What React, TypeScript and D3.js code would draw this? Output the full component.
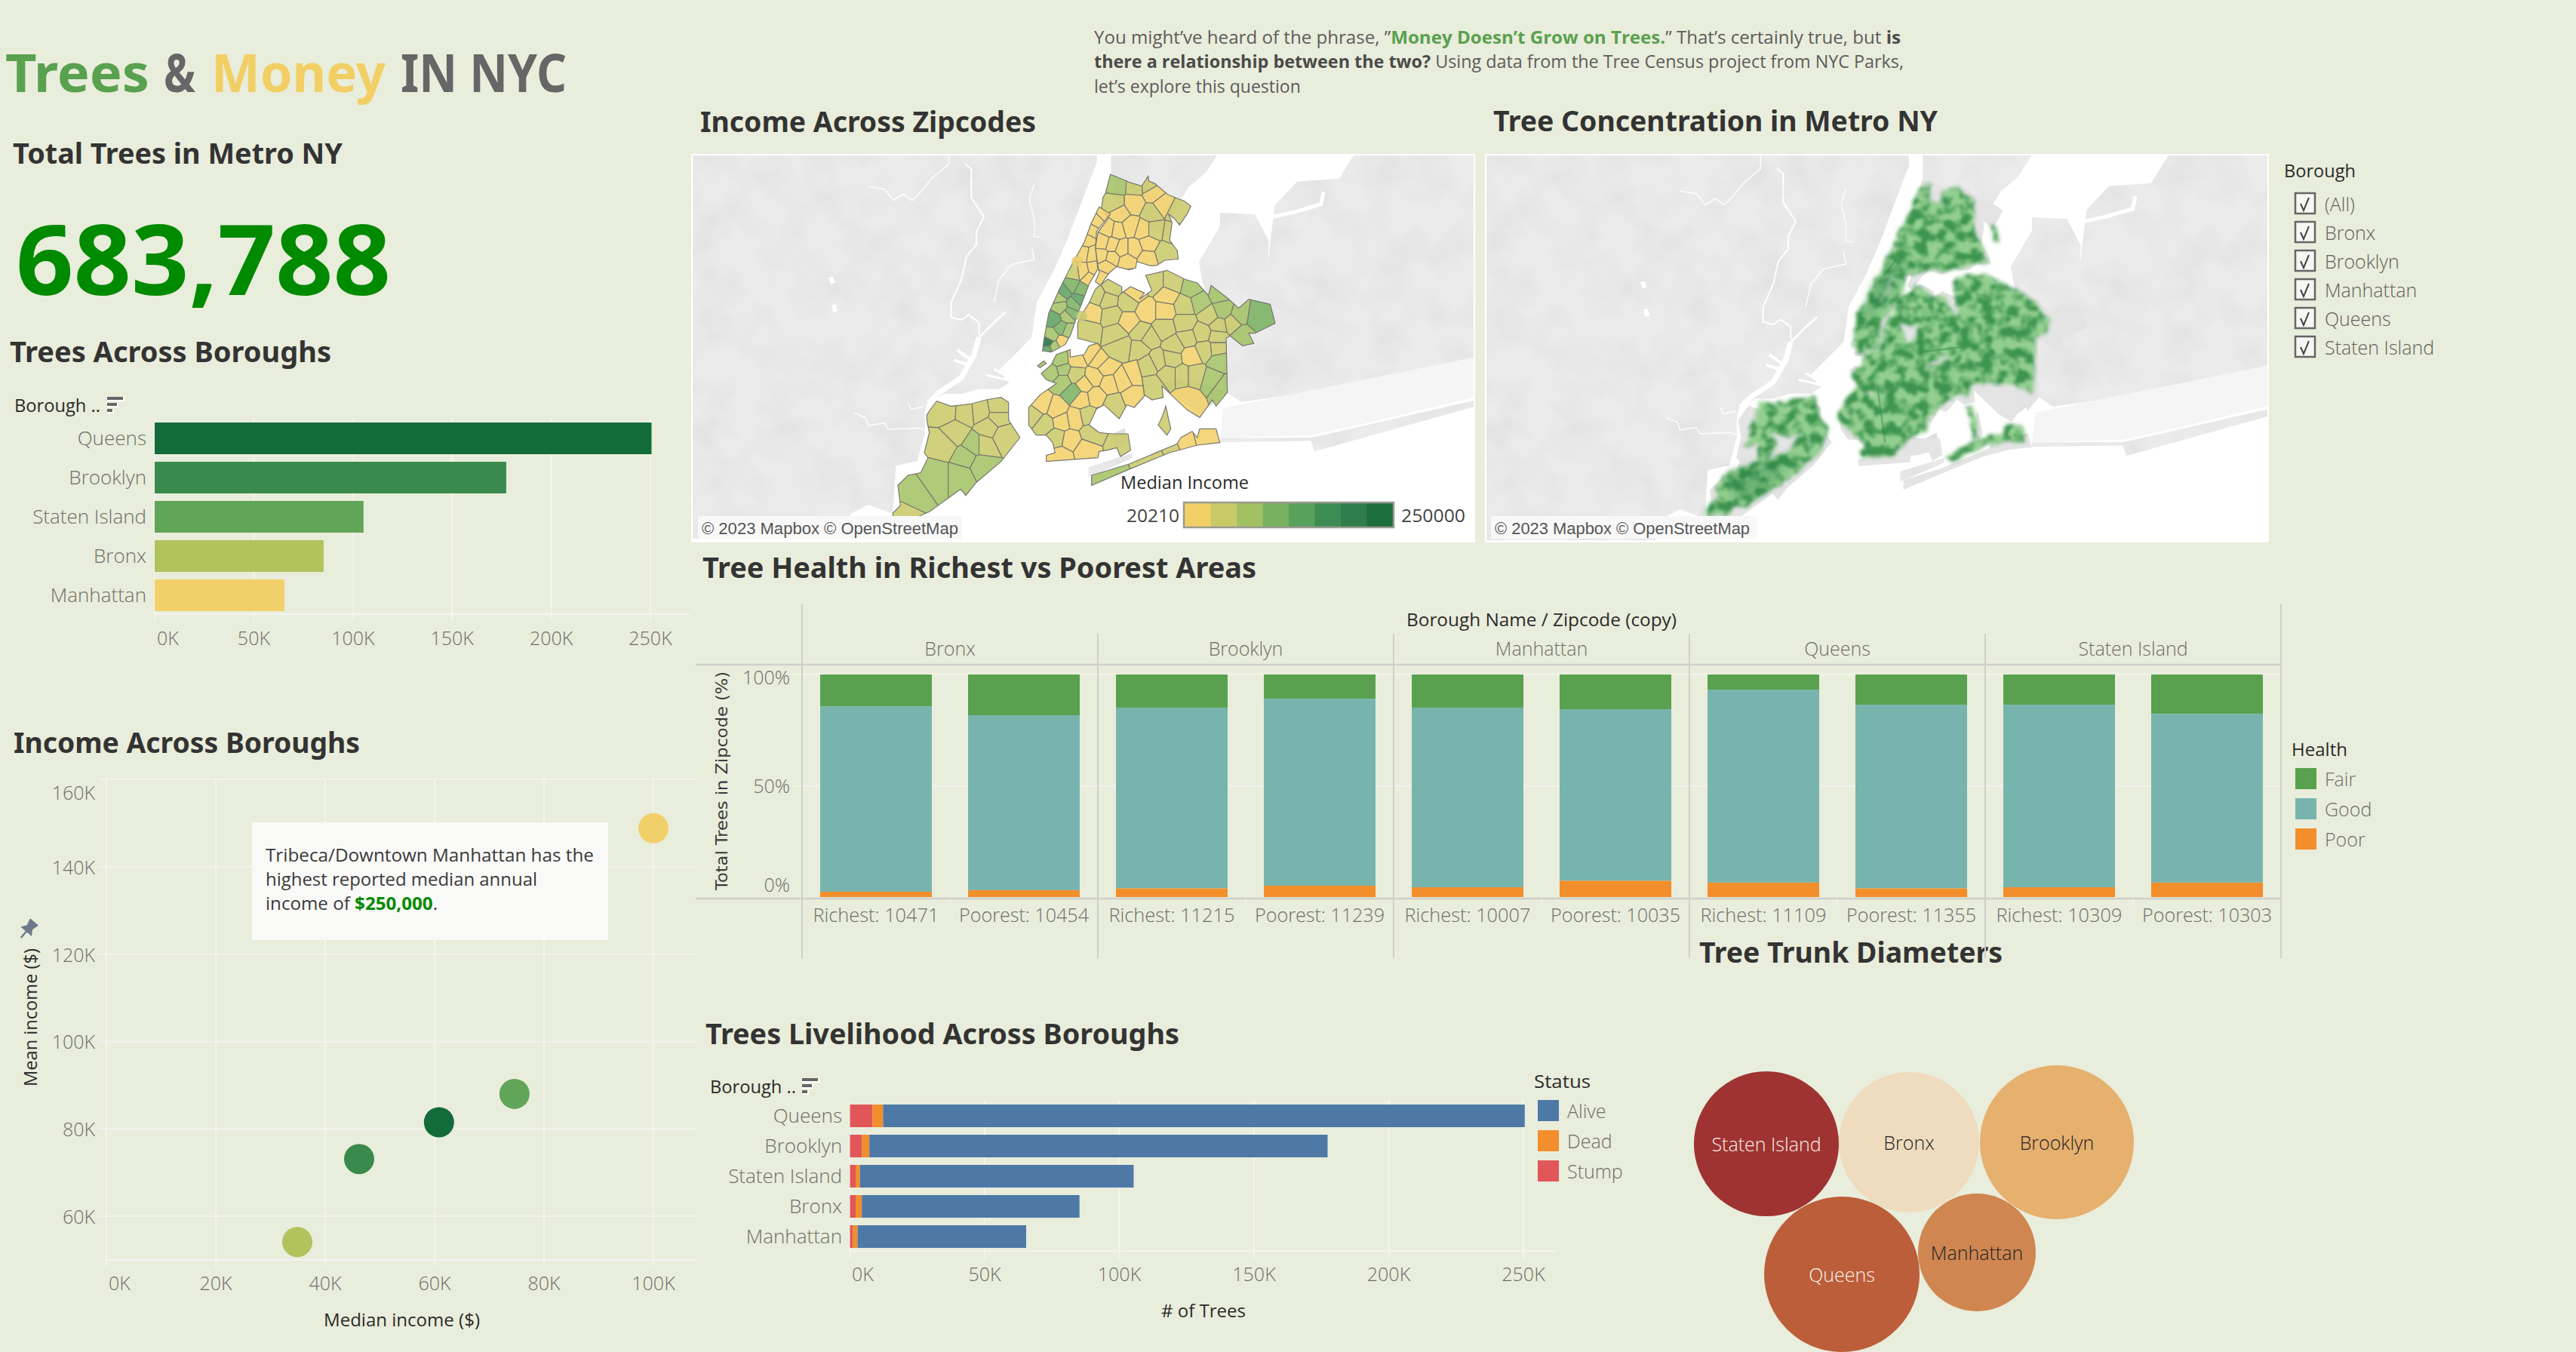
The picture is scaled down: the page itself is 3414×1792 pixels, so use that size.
import React, { useEffect, useRef } from 'react';
import * as d3 from 'd3';

type Pt = number[];

// ---- chart data ----
const totalTrees = '683,788';
const boroughOrder = ['Queens', 'Brooklyn', 'Staten Island', 'Bronx', 'Manhattan'];
const boroughTrees = [250551, 177293, 105318, 85203, 65423];
const boroughColors = ['#146b3a', '#3a8a4e', '#60a558', '#b2c25d', '#f2d069'];
const treeTicks = [0, 50000, 100000, 150000, 200000, 250000];

const aliveTrees = [238200, 170100, 101600, 80800, 62600];
const deadTrees = [3900, 2800, 1600, 2300, 1800];
const stumpTrees = [8400, 4400, 2100, 2100, 1000];
const statusNames = ['Alive', 'Dead', 'Stump'];
const statusColors = ['#4e79a7', '#f28e2b', '#e15759'];

const healthBoroughs = ['Bronx', 'Brooklyn', 'Manhattan', 'Queens', 'Staten Island'];
const richestZips = ['10471', '11215', '10007', '11109', '10309'];
const poorestZips = ['10454', '11239', '10035', '11355', '10303'];
const richestPoor = [2.4, 3.9, 4.4, 6.5, 4.4];
const richestFair = [14.3, 14.9, 14.9, 6.8, 13.6];
const poorestPoor = [3.1, 5.1, 7.3, 3.9, 6.5];
const poorestFair = [18.3, 10.9, 15.6, 13.6, 17.7];
const healthNames = ['Fair', 'Good', 'Poor'];
const healthColors = ['#59a14f', '#78b4ae', '#f28e2b'];

const medianIncome = [60800, 46200, 74600, 34900, 100000];
const meanIncome = [81500, 73100, 88000, 54100, 148800];
const incomeXTicks = [0, 20000, 40000, 60000, 80000, 100000];
const incomeYTicks = [60000, 80000, 100000, 120000, 140000, 160000];

const trunkBoroughs = ['Staten Island', 'Bronx', 'Brooklyn', 'Queens', 'Manhattan'];
const trunkDiameter = [10.95, 10.27, 12.36, 12.6, 7.23];
const trunkColors = ['#9f3332', '#efdcbf', '#e6b06e', '#bc5e3a', '#cf8651'];
const trunkInk = ['#f7f2ea', '#222', '#222', '#f7f2ea', '#222'];
// packed bubble layout, in layout units
const trunkPackX = [-192, -3, 193, -92, 87];
const trunkPackY = [2, 0, 0, 175, 146];

const filterItems = ['(All)', 'Bronx', 'Brooklyn', 'Manhattan', 'Queens', 'Staten Island'];
const incomeSteps = ['#f2d068', '#c9c968', '#a2c162', '#78b160', '#58a15d', '#3d8d53', '#2e7d4a', '#1c6e3c'];
const incomeDomain = [20210, 250000];

// ---- map data: outlines and zip centres on three survey sheets ----
// Income classes
const Y = 35000, O = 60000, L = 90000, M = 120000, G = 145000, D = 245000;

const bronxOutline = [[395,48],[460,75],[470,80],[520,95],[545,55],[548,75],[572,85],[625,130],[690,155],[715,175],[700,205],[670,250],[650,225],[625,205],[640,240],[630,310],[660,350],[665,385],[610,390],[580,410],[555,412],[500,395],[495,420],[470,428],[420,415],[390,440],[355,490],[335,475],[350,440],[345,410],[335,340],[345,280],[385,225],[375,205],[360,180],[365,140],[375,125]];
const bronxZips = [[420,90,L],[495,95,O],[545,90,O],[565,125,Y],[490,165,Y],[410,165,O],[560,200,O],[660,200,O],[600,170,Y],[640,280,O],[570,270,O],[610,360,O],[430,205,Y],[390,265,Y],[420,270,Y],[475,255,Y],[525,270,Y],[365,320,Y],[400,330,Y],[440,345,Y],[490,345,Y],[540,380,Y],[360,370,Y],[400,380,Y],[460,395,Y],[380,415,Y],[545,325,Y],[360,460,Y],[465,455,O]];
const manhattanOutline = [[350,178],[395,205],[340,275],[335,340],[345,425],[310,485],[270,590],[235,690],[215,725],[160,755],[125,750],[130,710],[150,600],[190,510],[240,410],[290,320],[320,240]];
const manhattanZips = [[370,205,Y],[340,235,Y],[320,270,Y],[300,310,Y],[320,365,Y],[290,360,Y],[285,435,Y],[330,425,Y],[310,460,Y],[250,440,O],[240,490,M],[210,515,G],[280,510,M],[190,540,L],[270,545,G],[250,565,M],[195,575,L],[235,600,M],[170,625,G],[225,610,L],[200,660,M],[160,690,L],[225,670,L],[205,715,Y],[145,718,D],[145,745,G],[170,735,L]];
const queensOutline = [[265,640],[285,600],[310,560],[335,505],[385,465],[440,495],[440,520],[475,495],[530,520],[510,545],[560,510],[535,450],[580,440],[620,430],[690,465],[740,480],[785,530],[795,490],[860,540],[905,580],[945,545],[1030,565],[1050,640],[970,680],[945,680],[965,720],[920,730],[870,690],[855,700],[860,915],[815,970],[800,945],[750,1015],[700,985],[600,890],[605,935],[560,945],[530,925],[520,855],[500,785],[445,800],[390,775],[340,720],[265,700]];
const queensZips = [[345,530,O],[400,500,O],[465,555,O],[490,520,Y],[570,480,O],[640,480,O],[385,545,O],[320,600,Y],[400,610,O],[465,635,Y],[540,590,Y],[610,590,Y],[620,530,Y],[690,570,O],[720,500,L],[750,555,L],[825,520,L],[840,590,L],[790,610,O],[690,640,O],[610,660,O],[545,700,O],[515,680,O],[420,680,O],[305,665,O],[880,640,O],[910,610,L],[975,620,M],[920,685,L],[825,650,O],[820,695,O],[760,680,O],[700,700,O],[650,730,O],[770,745,O],[820,740,O],[830,790,L],[800,865,L],[840,895,L],[715,770,Y],[640,780,O],[580,790,O],[510,740,O],[440,730,O],[565,890,O],[550,805,O],[625,845,O],[680,845,O],[730,845,O],[700,945,Y]];
const brooklynOutline = [[775,100],[830,90],[850,55],[885,45],[930,100],[985,125],[1040,110],[1060,180],[1070,255],[1030,300],[1000,290],[970,345],[910,290],[880,305],[850,370],[890,400],[935,405],[1005,405],[1015,470],[975,495],[960,460],[925,470],[890,475],[885,500],[680,515],[680,490],[715,480],[705,440],[680,410],[640,410],[610,370],[610,300],[620,290],[655,250],[720,205],[680,190],[660,165],[700,130],[720,90],[775,70]];
const brooklynZips = [[735,115,L],[705,160,L],[745,150,L],[745,195,L],[800,110,Y],[855,85,Y],[890,110,Y],[795,170,O],[870,180,Y],[830,210,Y],[920,140,Y],[930,205,Y],[790,240,M],[820,265,Y],[875,255,Y],[720,310,Y],[660,290,Y],[630,330,O],[675,365,O],[740,355,Y],[795,345,Y],[845,335,O],[720,420,O],[775,430,Y],[860,400,O],[835,470,Y],[740,495,Y],[900,345,O],[950,290,O],[980,190,Y],[1030,165,Y],[1025,260,Y],[975,450,O]];
const statenOutline = [[225,300],[245,275],[300,295],[350,290],[385,285],[440,270],[500,260],[530,280],[530,350],[575,420],[500,515],[400,600],[360,650],[340,625],[215,715],[170,735],[70,735],[70,720],[100,690],[90,610],[130,570],[180,560],[210,500],[195,480],[215,400],[205,350],[205,330]];
const statenZips = [[280,315,O],[360,320,O],[415,315,O],[490,300,O],[320,400,O],[450,380,O],[510,410,O],[490,340,O],[430,450,O],[395,450,L],[240,570,L],[140,640,L],[360,500,L],[420,530,L],[340,570,L],[100,725,O],[270,450,O]];
const rockawayOutline = [[860,570],[1010,525],[1200,445],[1215,420],[1260,395],[1280,420],[1290,385],[1355,385],[1370,440],[1280,450],[1170,480],[1000,550],[860,610]];
const rockawayZips = [[920,570,L],[1100,500,O],[1185,460,O],[1225,445,Y],[1320,420,Y]];
const channelOutline = [[1155,295],[1175,385],[1160,410],[1125,370],[1140,340]];
const channelZips = [[1150,350,O]];
const governorsOutline = [[645,135],[670,115],[680,125],[655,142]];
const governorsZips = [[662,128,L]];
const zipDots = [[262,395,Y],[280,612,O]];

// land and water on the west sheet
const westLand = [[-650,-42],[1110,-42],[1110,0],[1060,130],[1000,290],[940,430],[870,560],[850,700],[780,770],[720,830],[760,880],[720,905],[640,905],[570,925],[500,925],[440,960],[425,1030],[430,1080],[400,1190],[310,1210],[300,1370],[295,1400],[200,1365],[130,1400],[100,1500],[-650,1500]];
const eastLand = [[1165,-42],[1598,-42],[1543,44],[1473,103],[1418,198],[1390,300],[1200,200],[1165,50]];
const islandLand = [[1529,483],[1515,400],[1599,257],[1599,204],[1738,210],[1793,317],[1788,412],[1816,174],[1905,80],[2072,68],[2141,-42],[2700,-42],[2700,760],[2322,868],[2072,898],[1849,933],[1682,957],[1612,910],[1612,684]];
const marshLand = [[1612,981],[2700,760],[2700,915],[2183,1040],[1960,1088],[1599,1099]];
const beachLand = [[1599,1099],[1960,1099],[2700,930],[2700,950],[1974,1153],[1960,1111],[1599,1117]];
const breezyLand = [[1075,1215],[1250,1160],[1250,1180],[1075,1255]];
const airportLand = [[1370,880],[1420,865],[1500,880],[1620,910],[1590,950],[1520,1000],[1440,950]];
const bennettLand = [[1160,1090],[1220,1060],[1230,1120],[1190,1140]];
const rivers: [number, Pt[]][] = [
  [1.4, [[520,-42],[520,10],[450,70],[410,120],[375,155],[340,130],[300,155],[265,110],[200,100]]],
  [2, [[585,10],[610,30],[610,145],[660,220],[630,280],[630,330],[590,380],[570,470],[530,560],[530,620],[570,630],[600,610],[640,640],[640,690]]],
  [2.5, [[745,600],[700,640],[640,700]]],
  [7, [[640,700],[620,770],[570,860],[480,920],[440,960]]],
  [3, [[440,960],[430,1000],[430,1080],[400,1190]]],
  [1.2, [[860,90],[840,150],[860,230],[860,300],[890,300]]],
  [1.4, [[850,340],[860,390],[770,410],[720,470],[700,560]]],
  [1.4, [[145,1000],[190,1020],[200,1050],[265,1040],[280,1065],[400,1060],[430,1070]]],
  [1.4, [[360,960],[370,985],[420,975]]],
  [4, [[540,790],[600,810]]],
  [4, [[555,750],[610,790]]],
  [3, [[670,850],[760,870]]],
  [3, [[700,825],[760,860]]],
  [6, [[50,460],[60,485]]],
  [6, [[62,570],[70,598]]],
  [5, [[1810,220],[1900,200],[2000,170],[2010,120]]],
];

// where the tree-density surface sits on the west sheet
const densityBlobs = [
  [[1095,210],[1130,250],[1105,430],[1075,520],[1005,610],[990,720],[910,745],[885,710],[905,590],[980,440],[1040,330]],
  [[1165,65],[1195,70],[1195,140],[1230,150],[1245,95],[1300,80],[1375,140],[1365,230],[1390,290],[1425,385],[1340,395],[1290,410],[1245,420],[1210,410],[1140,430],[1100,420],[1110,320],[1095,210],[1130,140]],
  [[1285,460],[1340,430],[1420,430],[1500,470],[1530,483],[1610,540],[1668,613],[1660,660],[1612,684],[1610,800],[1599,909],[1560,880],[1490,870],[1420,865],[1362,868],[1340,920],[1295,910],[1280,850],[1340,760],[1310,680],[1300,560]],
  [[1135,470],[1200,515],[1240,520],[1300,600],[1335,740],[1370,860],[1340,920],[1295,910],[1240,960],[1190,990],[1180,1060],[1110,1080],[1060,1150],[920,1165],[915,1130],[940,1110],[850,1040],[825,990],[860,930],[900,870],[885,820],[920,790],[940,740],[995,725],[1020,620],[1060,540]],
  [[510,940],[610,940],[740,910],[755,990],[795,1040],[760,1130],[700,1190],[640,1130],[680,1060],[620,1080],[560,1060],[590,1100],[550,1170],[510,1175],[510,1100],[465,1120],[450,1110],[500,1040],[475,1050],[500,1000]],
  [[700,1190],[600,1270],[510,1320],[465,1355],[420,1355],[380,1390],[305,1390],[300,1370],[345,1320],[340,1270],[390,1220],[480,1180],[560,1160],[650,1125]],
  [[1255,1160],[1290,1130],[1420,1070],[1487,1060],[1495,1029],[1557,1029],[1576,1094],[1500,1095],[1420,1110],[1290,1175]],
  [[1340,950],[1360,950],[1385,1080],[1365,1085]],
  [[1435,240],[1455,235],[1470,300],[1450,310]],
];
const densityGaps = [
  [[1000,530],[1040,440],[1050,450],[1005,540]],
  [[1170,800],[1260,750],[1280,760],[1180,800]],
  [[1075,625],[1150,640],[1120,700],[1100,710]],
  [[940,900],[970,895],[965,915]],
  [[1000,870],[1015,870],[1010,890]],
];
// darker cores and street corridors of the density surface
const densityCores = [
  [[390,1220],[640,1140],[560,1280],[420,1340]],
  [[960,480],[1060,380],[1060,480],[920,650]],
  [[300,1370],[350,1340],[350,1390],[305,1390]],
];
const densityStreaks = [
  [[985,880],[1015,1100]],
  [[1010,440],[1060,370]],
  [[1150,740],[1320,720]],
];

const closed = (pts: Pt[], px: (v: number) => number, py: (v: number) => number) =>
  'M' + pts.map((p) => `${px(p[0])},${py(p[1])}`).join('L') + 'Z';

const App = () => {
  const svgRef = useRef<SVGSVGElement | null>(null);

  useEffect(() => {
    const svg = d3.select(svgRef.current);
    svg.selectAll('*').remove();
    const defs = svg.append('defs');

    const BOOK = "'Open Sans', sans-serif";
    const HEAD = "'Noto Sans', sans-serif";
    const GRID = '#f3f4ee';
    const FRAME = '#cfcfcb';
    const MUTED = '#6e6e6a';

    // text helper, w forces the width seen in the reference
    const txt = (parent: any, x: number, y: number, s: string, o: any = {}) => {
      const t = parent
        .append('text')
        .attr('x', x)
        .attr('y', y)
        .attr('font-family', o.family || BOOK)
        .attr('font-size', o.size || 25)
        .attr('font-weight', o.weight || 400)
        .attr('fill', o.fill || '#2b2b2b')
        .attr('text-anchor', o.anchor || 'start')
        .text(s);
      if (o.w) t.attr('textLength', o.w).attr('lengthAdjust', 'spacingAndGlyphs');
      if (o.rotate) t.attr('transform', `rotate(${o.rotate} ${x} ${y})`);
      return t;
    };
    const title = (x: number, y: number, s: string, w: number) =>
      txt(svg, x, y, s, { family: HEAD, size: 38, weight: 700, fill: '#333', w });
    const sortIcon = (x: number, y: number) => {
      [21, 13, 7].forEach((w, i) => {
        svg.append('rect').attr('x', x).attr('y', y + i * 8).attr('width', w + 2).attr('height', 6).attr('fill', '#fff');
        svg.append('rect').attr('x', x).attr('y', y + i * 8).attr('width', w).attr('height', 4).attr('fill', '#666');
      });
    };
    const kLabel = (d: number) => `${d / 1000}K`;

    // ---- page headings ----
    [
      ['Trees', 7, 191, '#59a14f'],
      ['&', 217, 42, '#666'],
      ['Money', 280, 231, '#f2cf65'],
      ['IN NYC', 531, 220, '#666'],
    ].forEach(([s, x, w, c]: any) => txt(svg, x, 122, s, { family: HEAD, size: 70, weight: 700, fill: c, w }));

    const intro = [
      [['You might’ve heard of the phrase, ”', 400, '#5c5c5c'], ['Money Doesn’t Grow on Trees.', 700, '#59a14f'], ['” That’s certainly true, but ', 400, '#5c5c5c'], ['is', 700, '#4a4a4a']],
      [['there a relationship between the two?', 700, '#4a4a4a'], [' Using data from the Tree Census project from NYC Parks,', 400, '#5c5c5c']],
      [['let’s explore this question', 400, '#5c5c5c']],
    ];
    const introW = [1069, 1073, 0];
    intro.forEach((line: any, i) => {
      const t = svg.append('text').attr('x', 1450).attr('y', [58, 90, 123][i]).attr('font-family', BOOK).attr('font-size', 23);
      if (introW[i]) t.attr('textLength', introW[i]).attr('lengthAdjust', 'spacingAndGlyphs');
      line.forEach(([s, wt, c]: any) => t.append('tspan').attr('font-weight', wt).attr('fill', c).text(s));
    });

    title(17, 217, 'Total Trees in Metro NY', 437);
    txt(svg, 21, 391, totalTrees, { size: 130, weight: 700, fill: '#008a00', w: 497 });
    title(13, 480, 'Trees Across Boroughs', 426);
    title(18, 998, 'Income Across Boroughs', 459);
    title(928, 175, 'Income Across Zipcodes', 445);
    title(1979, 174, 'Tree Concentration in Metro NY', 589);
    title(931, 766, 'Tree Health in Richest vs Poorest Areas', 734);
    title(935, 1384, 'Trees Livelihood Across Boroughs', 628);
    title(2252, 1276, 'Tree Trunk Diameters', 402);

    // ---- trees across boroughs ----
    const barX = d3.scaleLinear().domain([0, 250000]).range([205, 862]);
    const barY = d3.scaleBand().domain(boroughOrder).range([555, 815]).paddingInner(10 / 52).paddingOuter(5 / 52);
    treeTicks.forEach((d) => {
      svg.append('line').attr('x1', barX(d)).attr('x2', barX(d)).attr('y1', 554).attr('y2', 824).attr('stroke', GRID).attr('stroke-width', 2);
      const lx = d ? barX(d) : 208;
      txt(svg, lx, 855, kLabel(d), { size: 25, fill: MUTED, weight: 300, anchor: d ? 'middle' : 'start' });
    });
    svg.append('line').attr('x1', 205).attr('x2', 914).attr('y1', 814).attr('y2', 814).attr('stroke', GRID).attr('stroke-width', 2.5);
    boroughOrder.forEach((b, i) => {
      svg.append('rect').attr('x', barX(0)).attr('y', barY(b)!).attr('width', barX(boroughTrees[i]) - barX(0)).attr('height', barY.bandwidth()).attr('fill', boroughColors[i]);
      txt(svg, 194, barY(b)! + barY.bandwidth() / 2 + 9, b, { size: 26, fill: MUTED, weight: 300, anchor: 'end' });
    });
    txt(svg, 19, 546, 'Borough ..', { size: 24, w: 114 });
    sortIcon(142, 526);

    // ---- income scatter ----
    const sx = d3.scaleLinear().domain([0, 100000]).range([141, 866]);
    const sy = d3.scaleLinear().domain([60000, 160000]).range([1612, 1033]);
    incomeXTicks.forEach((d) => {
      svg.append('line').attr('x1', sx(d)).attr('x2', sx(d)).attr('y1', 1033).attr('y2', 1679).attr('stroke', GRID).attr('stroke-width', 2);
      txt(svg, d ? sx(d) : 144, 1710, kLabel(d), { fill: MUTED, weight: 300, anchor: d ? 'middle' : 'start' });
    });
    incomeYTicks.forEach((d) => {
      svg.append('line').attr('x1', 130).attr('x2', 924).attr('y1', sy(d)).attr('y2', sy(d)).attr('stroke', GRID).attr('stroke-width', 2);
      txt(svg, 126, d === 160000 ? 1060 : sy(d) + 10, kLabel(d), { fill: MUTED, weight: 300, anchor: 'end' });
    });
    svg.append('line').attr('x1', 141).attr('x2', 924).attr('y1', 1670).attr('y2', 1670).attr('stroke', GRID).attr('stroke-width', 2.5);
    medianIncome.forEach((v, i) => {
      svg.append('circle').attr('cx', sx(v)).attr('cy', sy(meanIncome[i])).attr('r', 20).attr('fill', boroughColors[i]);
    });
    svg.append('rect').attr('x', 334).attr('y', 1090).attr('width', 472).attr('height', 156).attr('fill', '#f9f9f7');
    txt(svg, 352, 1142, 'Tribeca/Downtown Manhattan has the', { size: 24, w: 435, fill: '#3a3a3a' });
    txt(svg, 352, 1174, 'highest reported median annual', { size: 24, w: 360, fill: '#3a3a3a' });
    const note = txt(svg, 352, 1206, 'income of ', { size: 24, fill: '#3a3a3a' });
    note.attr('textLength', 228).attr('lengthAdjust', 'spacingAndGlyphs');
    note.append('tspan').attr('font-weight', 700).attr('fill', '#008a00').text('$250,000');
    note.append('tspan').text('.');
    txt(svg, 429, 1758, 'Median income ($)', { size: 24, w: 207 });
    txt(svg, 49, 1440, 'Mean income ($)', { size: 24, w: 183, rotate: -90 });
    // pinned axis marker
    svg.append('path').attr('transform', 'translate(37 1232) rotate(40) scale(1.2)').attr('d', 'M-6,-11H6L4,-3L8,3H1V12L-1,12V3H-8L-4,-3Z').attr('fill', '#6e7a8a');

    // ---- maps ----
    const PW = 1037, PH = 512;
    const sheets: any = {
      north: { x: [-1266, 1845], y: [-27, 1509] },
      south: { x: [-726, 2385], y: [-702, 834] },
    };
    const boroughs: any[] = [
      { sheet: 'north', outline: bronxOutline, zips: bronxZips },
      { sheet: 'north', outline: manhattanOutline, zips: manhattanZips },
      { sheet: 'north', outline: queensOutline, zips: queensZips },
      { sheet: 'south', outline: brooklynOutline, zips: brooklynZips },
      { sheet: 'south', outline: statenOutline, zips: statenZips },
      { sheet: 'south', outline: rockawayOutline, zips: rockawayZips },
      { sheet: 'south', outline: channelOutline, zips: channelZips },
      { sheet: 'south', outline: governorsOutline, zips: governorsZips },
    ];

    const landTex = defs.append('filter').attr('id', 'landTex').attr('filterUnits', 'userSpaceOnUse').attr('x', 0).attr('y', 0).attr('width', PW).attr('height', PH).attr('color-interpolation-filters', 'sRGB');
    landTex.append('feTurbulence').attr('type', 'fractalNoise').attr('baseFrequency', 0.02).attr('numOctaves', 3).attr('seed', 7).attr('result', 'n');
    landTex.append('feColorMatrix').attr('in', 'n').attr('type', 'matrix').attr('values', '0 0 0 0 0  0 0 0 0 0  0 0 0 0 0  0.07 0 0 0 -0.026').attr('result', 'shade');
    landTex.append('feComposite').attr('in', 'shade').attr('in2', 'SourceAlpha').attr('operator', 'in').attr('result', 'cut');
    const lm = landTex.append('feMerge');
    lm.append('feMergeNode').attr('in', 'SourceGraphic');
    lm.append('feMergeNode').attr('in', 'cut');

    const dens = defs.append('filter').attr('id', 'densTex').attr('filterUnits', 'userSpaceOnUse').attr('x', 0).attr('y', 0).attr('width', PW).attr('height', PH).attr('color-interpolation-filters', 'sRGB');
    dens.append('feTurbulence').attr('type', 'fractalNoise').attr('baseFrequency', 0.07).attr('numOctaves', 2).attr('seed', 11).attr('result', 'noise');
    dens.append('feDisplacementMap').attr('in', 'SourceAlpha').attr('in2', 'noise').attr('scale', 9).attr('xChannelSelector', 'R').attr('yChannelSelector', 'G').attr('result', 'rough');
    dens.append('feGaussianBlur').attr('in', 'rough').attr('stdDeviation', 2.4).attr('result', 'soft');
    dens.append('feColorMatrix').attr('in', 'noise').attr('type', 'matrix').attr('values', '0 0 0 0 0.24  0 0 0 0 0.58  0 0 0 0 0.31  3.6 0 0 0 -1.35').attr('result', 'dark');
    dens.append('feGaussianBlur').attr('in', 'dark').attr('stdDeviation', 1.6).attr('result', 'darkSoft');
    dens.append('feFlood').attr('flood-color', '#93cf90').attr('result', 'base');
    const dm = dens.append('feMerge').attr('result', 'tex');
    dm.append('feMergeNode').attr('in', 'base');
    dm.append('feMergeNode').attr('in', 'darkSoft');
    dens.append('feComposite').attr('in', 'tex').attr('in2', 'soft').attr('operator', 'in');
    defs.append('filter').attr('id', 'coreBlur').attr('filterUnits', 'userSpaceOnUse').attr('x', 0).attr('y', 0).attr('width', PW).attr('height', PH).append('feGaussianBlur').attr('stdDeviation', 6);

    const drawPanel = (id: string, left: number, top: number, dx: number, dy: number) => {
      // dx, dy move this panel's basemap against the sheet
      svg.append('rect').attr('x', left - 2).attr('y', top - 2).attr('width', PW + 2).attr('height', PH + 3).attr('fill', '#fff');
      defs.append('clipPath').attr('id', id).append('rect').attr('width', PW - 2).attr('height', PH - 2);
      const g = svg.append('g').attr('transform', `translate(${left},${top})`).attr('clip-path', `url(#${id})`);
      const wx = d3.scaleLinear().domain([-570, 2538]).range([dx, PW + dx - 1]);
      const wy = d3.scaleLinear().domain([-42, 1494]).range([dy, PH + dy]);
      const land = g.append('g').attr('filter', 'url(#landTex)');
      [westLand, eastLand, islandLand, beachLand, breezyLand].forEach((p) => land.append('path').attr('d', closed(p, wx, wy)).attr('fill', '#ebebeb'));
      g.append('path').attr('d', closed(marshLand, wx, wy)).attr('fill', '#f5f5f5');
      const line = d3.line<Pt>().x((p) => wx(p[0])).y((p) => wy(p[1]));
      rivers.forEach(([w, p]) => g.append('path').attr('d', line(p)).attr('fill', 'none').attr('stroke', '#fff').attr('stroke-width', w));
      [airportLand, bennettLand].forEach((p) => g.append('path').attr('d', closed(p, wx, wy)).attr('fill', '#dfdfdf'));
      return { g, wx, wy, line };
    };

    // income choropleth, one Voronoi cell per zip inside its borough outline
    const incomeColor = d3.scaleQuantize<string>().domain(incomeDomain).range(incomeSteps);
    const left = drawPanel('panelA', 918, 206, -24, -6);
    boroughs.forEach((b, i) => {
      const px = d3.scaleLinear().domain(sheets[b.sheet].x).range([0, PW]);
      const py = d3.scaleLinear().domain(sheets[b.sheet].y).range([0, PH]);
      const outline = closed(b.outline, px, py);
      const cid = `zipClip${i}`;
      defs.append('clipPath').attr('id', cid).append('path').attr('d', outline);
      const cells = left.g.append('g').attr('clip-path', `url(#${cid})`);
      const seeds = b.zips.map((z: Pt) => [px(z[0]), py(z[1])]);
      if (seeds.length > 1) {
        const vor = d3.Delaunay.from(seeds).voronoi([0, 0, PW, PH]);
        b.zips.forEach((z: Pt, k: number) => {
          cells.append('path').attr('d', vor.renderCell(k)).attr('fill', incomeColor(z[2])).attr('fill-opacity', 0.86).attr('stroke', '#777770').attr('stroke-width', 1.1);
        });
      } else {
        cells.append('path').attr('d', outline).attr('fill', incomeColor(b.zips[0][2])).attr('fill-opacity', 0.86);
      }
      left.g.append('path').attr('d', outline).attr('fill', 'none').attr('stroke', '#777770').attr('stroke-width', 1.2);
    });
    const dotX = d3.scaleLinear().domain(sheets.north.x).range([0, PW]);
    const dotY = d3.scaleLinear().domain(sheets.north.y).range([0, PH]);
    zipDots.forEach((z) => left.g.append('circle').attr('cx', dotX(z[0])).attr('cy', dotY(z[1])).attr('r', 7).attr('fill', incomeColor(z[2])).attr('fill-opacity', 0.8).attr('stroke', '#bbb').attr('stroke-width', 0.6));

    // attribution and income legend
    const credit = (x: number, w: number, tw: number) => {
      svg.append('rect').attr('x', x).attr('y', 684).attr('width', w).attr('height', 30).attr('fill', '#f8f8f8');
      txt(svg, x + 5, 708, '© 2023 Mapbox © OpenStreetMap', { family: "'Liberation Sans', sans-serif", size: 22, fill: '#555', w: tw });
    };
    credit(925, 350, 340);
    txt(svg, 1485, 648, 'Median Income', { size: 24, w: 170 });
    txt(svg, 1563, 692, String(incomeDomain[0]), { size: 24, fill: '#444', anchor: 'end', w: 70 });
    txt(svg, 1857, 692, String(incomeDomain[1]), { size: 24, fill: '#444', w: 85 });
    const legendX = d3.scaleBand<number>().domain(d3.range(incomeSteps.length)).range([1570, 1846]);
    incomeSteps.forEach((c, i) => svg.append('rect').attr('x', legendX(i)!).attr('y', 667).attr('width', legendX.bandwidth() + 0.5).attr('height', 31).attr('fill', c));
    svg.append('rect').attr('x', 1569).attr('y', 666).attr('width', 278).attr('height', 33).attr('fill', 'none').attr('stroke', '#9a9a90').attr('stroke-width', 2.5);

    // tree density panel
    const right = drawPanel('panelB', 1970, 206, 0, 0);
    boroughs.forEach((b) => {
      const px = d3.scaleLinear().domain(sheets[b.sheet].x).range([24, PW + 24]);
      const py = d3.scaleLinear().domain(sheets[b.sheet].y).range([6, PH + 6]);
      right.g.append('path').attr('d', closed(b.outline, px, py)).attr('fill', '#e4e4e4');
    });
    const mask = defs.append('mask').attr('id', 'densGaps').attr('maskUnits', 'userSpaceOnUse').attr('x', 0).attr('y', 0).attr('width', PW).attr('height', PH);
    mask.append('rect').attr('width', PW).attr('height', PH).attr('fill', '#fff');
    densityGaps.forEach((p) => mask.append('path').attr('d', closed(p, right.wx, right.wy)).attr('fill', '#000'));
    const blobs = right.g.append('g').attr('filter', 'url(#densTex)').append('g').attr('mask', 'url(#densGaps)');
    densityBlobs.forEach((p) => blobs.append('path').attr('d', closed(p, right.wx, right.wy)).attr('fill', '#000'));
    const cores = right.g.append('g').attr('filter', 'url(#coreBlur)');
    densityCores.forEach((p) => cores.append('path').attr('d', closed(p, right.wx, right.wy)).attr('fill', '#1f7a3a').attr('fill-opacity', 0.32));
    densityStreaks.forEach((p) => right.g.append('path').attr('d', right.line(p)).attr('fill', 'none').attr('stroke', '#2c8a45').attr('stroke-opacity', 0.4).attr('stroke-width', 3));
    credit(1976, 352, 338);

    // borough filter card
    txt(svg, 3027, 235, 'Borough', { size: 24, w: 95 });
    filterItems.forEach((s, i) => {
      const y = 256 + i * 38;
      svg.append('rect').attr('x', 3042).attr('y', y).attr('width', 26).attr('height', 27).attr('fill', '#f6f6f2').attr('stroke', '#666').attr('stroke-width', 2.5);
      svg.append('path').attr('d', `M3049,${y + 14}L3053,${y + 23}L3060,${y + 6}`).attr('fill', 'none').attr('stroke', '#444').attr('stroke-width', 2);
      txt(svg, 3081, y + 24, s, { fill: '#5f5f5b', weight: 300 });
    });

    // ---- tree health small multiples ----
    const facet = d3.scaleBand().domain(healthBoroughs).range([1063, 3023]);
    const hy = d3.scaleLinear().domain([0, 100]).range([1189, 894]);
    [50, 100].forEach((d) => {
      svg.append('line').attr('x1', 1050).attr('x2', 3023).attr('y1', hy(d)).attr('y2', hy(d)).attr('stroke', GRID).attr('stroke-width', 2);
    });
    txt(svg, 1047, 907, '100%', { fill: MUTED, weight: 300, anchor: 'end' });
    txt(svg, 1047, 1051, '50%', { fill: MUTED, weight: 300, anchor: 'end' });
    txt(svg, 1047, 1182, '0%', { fill: MUTED, weight: 300, anchor: 'end' });
    healthBoroughs.forEach((b, i) => {
      const fx = facet(b)!;
      const inner = d3.scaleBand().domain(['Richest', 'Poorest']).range([fx, fx + facet.bandwidth()]).paddingInner(0.245).paddingOuter(0.1225);
      const rows = [
        { key: 'Richest', zip: richestZips[i], poor: richestPoor[i], fair: richestFair[i] },
        { key: 'Poorest', zip: poorestZips[i], poor: poorestPoor[i], fair: poorestFair[i] },
      ];
      rows.forEach((r) => {
        const bx = inner(r.key)!;
        const bands = [
          [100 - r.fair, 100, healthColors[0]],
          [r.poor, 100 - r.fair, healthColors[1]],
          [0, r.poor, healthColors[2]],
        ] as [number, number, string][];
        bands.forEach(([a, c, col]) => svg.append('rect').attr('x', bx).attr('y', hy(c)).attr('width', inner.bandwidth()).attr('height', hy(a) - hy(c)).attr('fill', col));
        txt(svg, bx + inner.bandwidth() / 2, 1222, `${r.key}: ${r.zip}`, { fill: MUTED, weight: 300, anchor: 'middle', size: 25, w: r.key === 'Richest' ? 167 : 172 });
      });
      txt(svg, fx + facet.bandwidth() / 2, 869, b, { fill: MUTED, weight: 300, anchor: 'middle' });
      svg.append('line').attr('x1', fx + 196).attr('x2', fx + 196).attr('y1', 1191).attr('y2', 1197).attr('stroke', GRID).attr('stroke-width', 2);
    });
    // facet frame
    facet.domain().concat(['end']).forEach((b, i) => {
      const x = b === 'end' ? 3023 : facet(b)!;
      const outer = i === 0 || b === 'end';
      svg.append('line').attr('x1', x).attr('x2', x).attr('y1', outer ? 800 : 840).attr('y2', 1270).attr('stroke', FRAME).attr('stroke-width', 2);
    });
    [881, 1191].forEach((y) => svg.append('line').attr('x1', 922).attr('x2', 3023).attr('y1', y).attr('y2', y).attr('stroke', FRAME).attr('stroke-width', 2.5));
    txt(svg, 1864, 830, 'Borough Name  /  Zipcode (copy)', { size: 24, w: 358 });
    txt(svg, 964, 1180, 'Total Trees in Zipcode (%)', { family: "'DejaVu Sans', sans-serif", size: 21, fill: '#3a3a3a', w: 290, rotate: -90 });

    txt(svg, 3037, 1002, 'Health', { size: 24, w: 74 });
    healthNames.forEach((s, i) => {
      svg.append('rect').attr('x', 3042).attr('y', 1018 + i * 40).attr('width', 28).attr('height', 28).attr('fill', healthColors[i]);
      txt(svg, 3081, 1042 + i * 40, s, { fill: MUTED, weight: 300 });
    });

    // ---- tree livelihood ----
    const lifeX = d3.scaleLinear().domain([0, 250000]).range([1126.5, 2019]);
    const lifeY = d3.scaleBand().domain(boroughOrder).range([1459, 1659]).paddingInner(0.25).paddingOuter(0.125);
    treeTicks.forEach((d) => {
      svg.append('line').attr('x1', lifeX(d)).attr('x2', lifeX(d)).attr('y1', 1458).attr('y2', 1668).attr('stroke', GRID).attr('stroke-width', 2);
      txt(svg, d ? lifeX(d) : 1129, 1698, kLabel(d), { fill: MUTED, weight: 300, anchor: d ? 'middle' : 'start' });
    });
    svg.append('line').attr('x1', 1126).attr('x2', 2064).attr('y1', 1658).attr('y2', 1658).attr('stroke', GRID).attr('stroke-width', 2.5);
    boroughOrder.forEach((b, i) => {
      const stack = [
        [stumpTrees[i], statusColors[2]],
        [deadTrees[i], statusColors[1]],
        [aliveTrees[i], statusColors[0]],
      ] as [number, string][];
      let run = 0;
      stack.forEach(([v, c]) => {
        svg.append('rect').attr('x', lifeX(run)).attr('y', lifeY(b)!).attr('width', lifeX(run + v) - lifeX(run)).attr('height', lifeY.bandwidth()).attr('fill', c);
        run += v;
      });
      txt(svg, 1116, lifeY(b)! + 24, b, { fill: MUTED, weight: 300, anchor: 'end', size: 26 });
    });
    txt(svg, 941, 1449, 'Borough ..', { size: 24, w: 114 });
    sortIcon(1063, 1429);
    txt(svg, 1539, 1746, '# of Trees', { size: 24, w: 112 });
    txt(svg, 2033, 1442, 'Status', { size: 24, w: 75 });
    statusNames.forEach((s, i) => {
      svg.append('rect').attr('x', 2038).attr('y', 1458 + i * 40).attr('width', 28).attr('height', 28).attr('fill', statusColors[i]);
      txt(svg, 2077, 1482 + i * 40, s, { fill: MUTED, weight: 300 });
    });

    // ---- trunk bubbles ----
    const bubbleR = d3.scaleSqrt().domain([0, 12.6]).range([0, 103]);
    const packX = d3.scaleLinear().domain([0, 100]).range([2533, 2633]);
    const packY = d3.scaleLinear().domain([0, 100]).range([1514, 1614]);
    trunkBoroughs.forEach((b, i) => {
      svg.append('circle').attr('cx', packX(trunkPackX[i])).attr('cy', packY(trunkPackY[i])).attr('r', bubbleR(trunkDiameter[i])).attr('fill', trunkColors[i]);
      txt(svg, packX(trunkPackX[i]), packY(trunkPackY[i]) + 10, b, { fill: trunkInk[i], weight: 300, anchor: 'middle' });
    });
  }, []);

  return <svg ref={svgRef} width={3414} height={1792} style={{ position: 'absolute', left: 0, top: 0, background: '#e9eddb' }} />;
};

export default App;
